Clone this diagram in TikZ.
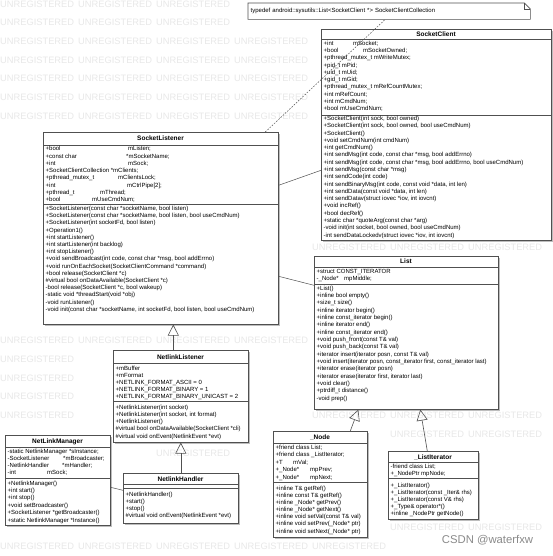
\documentclass[tikz,border=0pt]{standalone}
\usepackage{fontspec}
\setmainfont{Liberation Sans}
\usetikzlibrary{arrows.meta,shadows}
\definecolor{cline}{HTML}{505050}
\definecolor{cmark}{HTML}{E8E8E8}
\definecolor{cshade}{HTML}{BDBDBD}
\definecolor{ccsdn}{HTML}{8A8A8A}

\begin{document}
\begin{tikzpicture}[x=1pt,y=-1pt,
    umlbox/.style={draw=cline,fill=white,line width=0.6pt,inner sep=0pt,anchor=north west,
      drop shadow={shadow xshift=1.3pt,shadow yshift=-1.3pt,fill=cshade,opacity=1}},
    umltitle/.style={font=\bfseries\fontsize{6.5}{7}\selectfont,anchor=base,inner sep=0pt},
    umltext/.style={font=\fontsize{6}{7}\selectfont,anchor=base west,inner sep=0pt},
    umlsep/.style={draw=cline,line width=0.6pt},
    notebox/.style={fill=white,anchor=north west,minimum width=282pt,minimum height=16pt,
      text width=277pt,inner xsep=2.5pt,inner ysep=0pt,align=left,font=\fontsize{6}{7}\selectfont},
    inherit/.style={draw=cline,line width=0.6pt,-{Triangle[open,length=11pt,width=11pt]}},
    assoc/.style={draw=cline,line width=0.5pt},
    notelink/.style={draw=cline,line width=0.5pt,dash pattern=on 1.6pt off 1.4pt},
    wmark/.style={font=\fontsize{9.3}{10}\selectfont,text=cmark,anchor=west,inner sep=0pt},
    csdn/.style={font=\fontsize{11.3}{12}\selectfont,text=ccsdn,inner sep=0pt}]
  \useasboundingbox (0,0) rectangle (553,556);
  \fill[white] (0,0) rectangle (553,556);

  % watermark: only the words that lie clear of the boxes
  \foreach \r in {0,...,29}
    \foreach \c in {0,...,6}{
      \pgfmathsetmacro\wx{78*\c}
      \pgfmathsetmacro\wy{4+18.7*\r}
      \xdef\hid{0}
      \foreach \L/\T/\R/\B in {248/3/530/19,321/29/553/242,43/132/280/326,314/256/500/411,
          113/350/250/444,5/435/112/527,123/473/240/525,273/431/369/539,388/451/480/521,
          440/532/536/548}{
        \pgfmathparse{(\wx<\R)&&(\wx+74>\L)&&(\wy+4>\T)&&(\wy-4<\B)}
        \ifdim\pgfmathresult pt>0.5pt \xdef\hid{1}\fi
      }
      \ifnum\hid=0 \node[wmark] (wm-\r-\c) at (\wx,\wy) {UNREGISTERED};\fi
    }

  % typedef note
  \node[notebox] (note) at (248,3) {typedef android::sysutils::List<SocketClient *> SocketClientCollection};
  \draw[umlsep] (note.south west) -- (note.north west) -- ([xshift=-6pt]note.north east)
    -- ([yshift=-6pt]note.north east) -- (note.south east) -- cycle;
  \draw[umlsep] ([xshift=-6pt]note.north east) -- ([xshift=-6pt,yshift=-6pt]note.north east)
    -- ([yshift=-6pt]note.north east);

  % SocketClient
  \node[umlbox,minimum width=230pt,minimum height=211pt] (sc) at (321,29) {};
  \node[umltitle] (sc-title) at (436,36.5) {SocketClient};
  \draw[umlsep] (321,39.5) -- +(230,0) (321,115) -- +(230,0);
  \foreach \t [count=\i from 0] in {{\makebox[29.5pt][l]{+int}mSocket;},
      {\makebox[39.5pt][l]{+bool}mSocketOwned;},{+pthread\_mutex\_t mWriteMutex;},
      {+pid\_t mPid;},{+uid\_t mUid;},{+gid\_t mGid;},{+pthread\_mutex\_t mRefCountMutex;},
      {+int mRefCount;},{+int mCmdNum;},{+bool mUseCmdNum;}}
    \node[umltext] (sc-a\i) at (323.5,45.5+7.25*\i) {\t};
  \foreach \t [count=\i from 0] in {{+SocketClient(int sock, bool owned)},
      {+SocketClient(int sock, bool owned, bool useCmdNum)},{+SocketClient()},
      {+void setCmdNum(int cmdNum)},{+int getCmdNum()},
      {+int sendMsg(int code, const char *msg, bool addErrno)},
      {+int sendMsg(int code, const char *msg, bool addErrno, bool useCmdNum)},
      {+int sendMsg(const char *msg)},{+int sendCode(int code)},
      {+int sendBinaryMsg(int code, const void *data, int len)},
      {+int sendData(const void *data, int len)},{+int sendDatav(struct iovec *iov, int iovcnt)},
      {+void incRef()},{+bool decRef()},{+static char *quoteArg(const char *arg)},
      {-void init(int socket, bool owned, bool useCmdNum)},
      {-int sendDataLockedv(struct iovec *iov, int iovcnt)}}
    \node[umltext] (sc-m\i) at (323.5,120.6+7.28*\i) {\t};

  % SocketListener
  \node[umlbox,minimum width=235pt,minimum height=192pt] (sl) at (43,132) {};
  \node[umltitle] (sl-title) at (160.5,141) {SocketListener};
  \draw[umlsep] (43,145.5) -- +(235,0) (43,204) -- +(235,0);
  \foreach \t [count=\i from 0] in {{\makebox[82.5pt][l]{+bool}mListen;},
      {\makebox[80.5pt][l]{+const char}*mSocketName;},{\makebox[82.5pt][l]{+int}mSock;},
      {+SocketClientCollection *mClients;},{\makebox[72.5pt][l]{+pthread\_mutex\_t}mClientsLock;},
      {\makebox[81.5pt][l]{+int}mCtrlPipe[2];},{\makebox[54.5pt][l]{+pthread\_t}mThread;},
      {\makebox[46.5pt][l]{+bool}mUseCmdNum;}}
    \node[umltext] (sl-a\i) at (45.5,151+7.2*\i) {\t};
  \foreach \t [count=\i from 0] in {{+SocketListener(const char *socketName, bool listen)},
      {+SocketListener(const char *socketName, bool listen, bool useCmdNum)},
      {+SocketListener(int socketFd, bool listen)},{+Operation1()},{+int startListener()},
      {+int startListener(int backlog)},{+int stopListener()},
      {+void sendBroadcast(int code, const char *msg, bool addErrno)},
      {+void runOnEachSocket(SocketClientCommand *command)},{+bool release(SocketClient *c)},
      {\#virtual bool onDataAvailable(SocketClient *c)},{-bool release(SocketClient *c, bool wakeup)},
      {-static void *threadStart(void *obj)},{-void runListener()},
      {-void init(const char *socketName, int socketFd, bool listen, bool useCmdNum)}}
    \node[umltext] (sl-m\i) at (45.5,210.5+7.2*\i) {\t};

  % List
  \node[umlbox,minimum width=184pt,minimum height=153pt] (ls) at (314,256) {};
  \node[umltitle] (ls-title) at (406,263.5) {List};
  \draw[umlsep] (314,267) -- +(184,0) (314,284) -- +(184,0);
  \foreach \t [count=\i from 0] in {{+struct CONST\_ITERATOR},{\makebox[27.5pt][l]{-\_Node*}mpMiddle;}}
    \node[umltext] (ls-a\i) at (316.5,273.5+7*\i) {\t};
  \foreach \t [count=\i from 0] in {{+List()},{+inline bool empty()},{+size\_t size()},
      {+inline iterator begin()},{+inline const\_iterator begin()},{+inline iterator end()},
      {+inline const\_iterator end()},{+void push\_front(const T\& val)},
      {+void push\_back(const T\& val)},{+iterator insert(iterator posn, const T\& val)},
      {+void insert(iterator posn, const\_iterator first, const\_iterator last)},
      {+iterator erase(iterator posn)},{+iterator erase(iterator first, iterator last)},
      {+void clear()},{+ptrdiff\_t distance()},{-void prep()}}
    \node[umltext] (ls-m\i) at (316.5,290.3+7.33*\i) {\t};

  % NetlinkListener
  \node[umlbox,minimum width=135pt,minimum height=92pt] (nl) at (113,350) {};
  \node[umltitle] (nl-title) at (180.5,359.5) {NetlinkListener};
  \draw[umlsep] (113,363) -- +(135,0) (113,401) -- +(135,0);
  \foreach \t [count=\i from 0] in {{+mBuffer},{+mFormat},{+NETLINK\_FORMAT\_ASCII = 0},
      {+NETLINK\_FORMAT\_BINARY = 1},{+NETLINK\_FORMAT\_BINARY\_UNICAST = 2}}
    \node[umltext] (nl-a\i) at (115.5,370+7*\i) {\t};
  \foreach \t [count=\i from 0] in {{+NetlinkListener(int socket)},
      {+NetlinkListener(int socket, int format)},{+NetlinkListener()},
      {\#virtual bool onDataAvailable(SocketClient *cli)},{\#virtual void onEvent(NetlinkEvent *evt)}}
    \node[umltext] (nl-m\i) at (115.5,409+7.25*\i) {\t};

  % NetLinkManager
  \node[umlbox,minimum width=105pt,minimum height=90pt] (nm) at (5,435) {};
  \node[umltitle] (nm-title) at (57.5,443.5) {NetLinkManager};
  \draw[umlsep] (5,447) -- +(105,0) (5,478) -- +(105,0);
  \foreach \t [count=\i from 0] in {{-static NetlinkManager *sInstance;},
      {\makebox[55.5pt][l]{-SocketListener}*mBroadcaster;},
      {\makebox[54.5pt][l]{-NetlinkHandler}*mHandler;},{\makebox[39.5pt][l]{-int}mSock;}}
    \node[umltext] (nm-a\i) at (7.5,453+7.33*\i) {\t};
  \foreach \t [count=\i from 0] in {{+NetlinkManager()},{+int start()},{+int stop()},
      {+void setBroadcaster()},{+SocketListener *getBroadcaster()},
      {+static NetlinkManager *Instance()}}
    \node[umltext] (nm-m\i) at (7.5,485+7.4*\i) {\t};

  % NetlinkHandler
  \node[umlbox,minimum width=115pt,minimum height=50pt] (nh) at (123,473) {};
  \node[umltitle] (nh-title) at (180.5,481.5) {NetlinkHandler};
  \draw[umlsep] (123,484.5) -- +(115,0) (123,488) -- +(115,0);
  \foreach \t [count=\i from 0] in {{+NetlinkHandler()},{+start()},{+stop()},
      {\#virtual void onEvent(NetlinkEvent *evt)}}
    \node[umltext] (nh-m\i) at (125.5,496+7.3*\i) {\t};

  % _Node
  \node[umlbox,minimum width=94pt,minimum height=106pt] (nd) at (273,431) {};
  \node[umltitle] (nd-title) at (320,439.5) {\_Node};
  \draw[umlsep] (273,443) -- +(94,0) (273,482) -- +(94,0);
  \foreach \t [count=\i from 0] in {{+friend class List;},{+friend class \_ListIterator;},
      {\makebox[17.5pt][l]{+T}mVal;},{\makebox[34.5pt][l]{+\_Node*}mpPrev;},
      {\makebox[34.5pt][l]{+\_Node*}mpNext;}}
    \node[umltext] (nd-a\i) at (275.5,449+7.5*\i) {\t};
  \foreach \t [count=\i from 0] in {{+inline T\& getRef()},{+inline const T\& getRef()},
      {+inline \_Node* getPrev()},{+inline \_Node* getNext()},{+inline void setVal(const T\& val)},
      {+inline void setPrev(\_Node* ptr)},{+inline void setNext(\_Node* ptr)}}
    \node[umltext] (nd-m\i) at (275.5,490+7.17*\i) {\t};

  % _ListIterator
  \node[umlbox,minimum width=90pt,minimum height=68pt] (li) at (388,451) {};
  \node[umltitle] (li-title) at (433,459.5) {\_ListIterator};
  \draw[umlsep] (388,462) -- +(90,0) (388,478) -- +(90,0);
  \foreach \t [count=\i from 0] in {{-friend class List;},{+\_NodePtr mpNode;}}
    \node[umltext] (li-a\i) at (390.5,468.5+7*\i) {\t};
  \foreach \t [count=\i from 0] in {{+\_ListIterator()},{+\_ListIterator(const \_Iter\& rhs)},
      {+\_ListIterator(const V\& rhs)},{+\_Type\& operator*()},{+inline \_NodePtr getNode()}}
    \node[umltext] (li-m\i) at (390.5,487+7*\i) {\t};

  % connectors
  \draw[notelink] ([xshift=104.5pt]sl.north) -- ([xshift=-4pt]note.south);
  \draw[assoc] ([yshift=43pt]sl.east) -- ([yshift=-35.5pt]sc.west);
  \draw[assoc] ([yshift=-48pt]sl.east) -- ([yshift=47.5pt]ls.west);
  \draw[inherit] ([xshift=-7.5pt]nl.north) -- ([xshift=12.5pt]sl.south);
  \draw[inherit] (nh.north) -- (nl.south);
  \draw[assoc] ([yshift=-7pt]nm.east) -- ([yshift=8pt]nh.west);
  \draw[inherit] ([xshift=30pt]nd.north) -- ([xshift=-48pt]ls.south);
  \draw[inherit] ([xshift=-6pt]li.north) -- ([xshift=14pt]ls.south);

  \node[csdn] (mark) at (487.5,540) {CSDN @waterfxw};
\end{tikzpicture}
\end{document}
